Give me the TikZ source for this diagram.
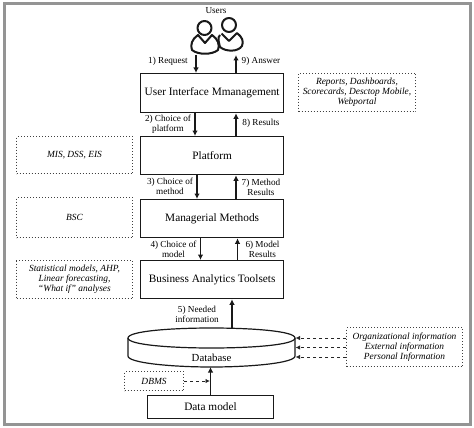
\documentclass[tikz,border=0pt]{standalone}
\usepackage{fontspec}
\setmainfont{Liberation Serif}
\usetikzlibrary{arrows.meta}
\tikzset{
 x=1pt,y=-1pt,
 mainbox/.style={draw=black!90,line width=1.3pt,fill=white,anchor=north west,inner sep=0pt,font=\fontsize{11.3}{13}\selectfont},
 notebox/.style={draw=black!75,line width=1pt,dotted,anchor=north west,inner sep=0pt,align=center,font=\fontsize{9.4}{10}\selectfont\itshape},
 lbl/.style={font=\fontsize{9.2}{10}\selectfont,align=center,inner sep=0pt},
 flow/.style={draw=black!90,line width=1.2pt,-{Latex[length=5.5pt,width=5.5pt]}},
 feed/.style={draw=black!85,line width=1pt,dashed,-{Latex[length=4.5pt,width=4.5pt]}},
 person/.style={draw=black!90,line width=2pt,line join=round},
}
\begin{document}
\begin{tikzpicture}
\useasboundingbox (0,0) rectangle (474,428);
\fill[white] (0,0) rectangle (474,428);
\draw[black!42,line width=3pt] (4,4) rectangle (470,424);
% boxes
\node[mainbox,minimum width=143pt,minimum height=39pt] (ui) at (140,73) {User Interface Mmanagement};
\node[mainbox,minimum width=143pt,minimum height=38pt] (pf) at (140,136) {Platform};
\node[mainbox,minimum width=143pt,minimum height=38pt] (mm) at (140,199) {Managerial Methods};
\node[mainbox,minimum width=143pt,minimum height=38pt] (ba) at (140,260) {Business Analytics Toolsets};
\node[mainbox,minimum width=126pt,minimum height=23pt,line width=1pt] (dm) at (147,395) {Data model};
% database
\draw[draw=black!90,line width=1.2pt,fill=white] (128,338) .. controls (128,331) and (172,328) .. (211.5,328) .. controls (251,328) and (295,331) .. (295,338) -- (295,356) .. controls (295,363) and (251,367) .. (211.5,367) .. controls (172,367) and (128,363) .. (128,356) -- cycle;
\draw[draw=black!90,line width=1.2pt] (128,338) .. controls (128,345) and (172,348) .. (211.5,348) .. controls (251,348) and (295,345) .. (295,338);
\node[inner sep=0pt,font=\fontsize{10.8}{13}\selectfont] (db) at (211.5,358) {Database};
% notes
\node[notebox,minimum width=117pt,minimum height=38pt] (n1) at (298,73) {Reports, Dashboards,\\Scorecards, Desctop Mobile,\\Webportal};
\node[notebox,minimum width=116pt,minimum height=37pt] (n2) at (16,136) {MIS, DSS, EIS};
\node[notebox,minimum width=116pt,minimum height=40pt] (n3) at (16,197) {BSC};
\node[notebox,minimum width=116pt,minimum height=38pt] (n4) at (16,260) {Statistical models, AHP,\\Linear forecasting,\\``What if'' analyses};
\node[notebox,minimum width=116pt,minimum height=39pt] (n5) at (346,327) {Organizational information\\External information\\Personal Information};
\node[notebox,minimum width=59pt,minimum height=19pt] (n6) at (124,371) {DBMS};
% users
\node[lbl] (users) at (216,11) {Users};
\node[circle,person,minimum size=14pt,inner sep=0pt] (h1) at (204.5,28) {};
\node[circle,person,minimum size=14pt,inner sep=0pt] (h2) at (229,25) {};
\draw[person] (220,35) .. controls (217,38) and (219,42) .. (220,47) .. controls (226,52) and (238,52) .. (242,46) .. controls (244,41) and (242,37) .. (237,33) -- (229,41) -- (221.5,33.5);
\draw[person,fill=white] (198,35) .. controls (192,39) and (190,45) .. (192,50) .. controls (198,55) and (212,55) .. (218,50) .. controls (220,45) and (218,39) .. (212,35) -- (205,43) -- cycle;
% arrows
\coordinate (uin) at (196,55);
\coordinate (uout) at (236,55);
\draw[flow] (uin) -- (196,0 |- ui.north);
\draw[flow] (236,0 |- ui.north) -- (uout);
\draw[flow] (195,0 |- ui.south) -- (195,0 |- pf.north);
\draw[flow] (236,0 |- pf.north) -- (236,0 |- ui.south);
\draw[flow] (197,0 |- pf.south) -- (197,0 |- mm.north);
\draw[flow] (236,0 |- mm.north) -- (236,0 |- pf.south);
\draw[flow] (200.5,0 |- mm.south) -- (200.5,0 |- ba.north);
\draw[flow] (237.5,0 |- ba.north) -- (237.5,0 |- mm.south);
\coordinate (dbtop) at (232,328);
\draw[flow] (dbtop) -- (232,0 |- ba.south);
\coordinate (dbbot) at (210.5,367);
\draw[flow] (dm.north -| dbbot) -- (dbbot);
\draw[feed] (n6.east) -- (210,0 |- n6.east);
\coordinate (o1) at (295.5,338);
\coordinate (o2) at (295.5,347.5);
\coordinate (o3) at (295.5,357);
\draw[feed] (n5.west |- o1) -- (o1);
\draw[feed] (n5.west |- o2) -- (o2);
\draw[feed] (n5.west |- o3) -- (o3);
% labels
\node[lbl] (l1) at (168,61) {1) Request};
\node[lbl] (l9) at (261,61) {9) Answer};
\node[lbl] (l2) at (168,124) {2) Choice of\\platform};
\node[lbl] (l8) at (261,123) {8) Results};
\node[lbl] (l3) at (170,186.5) {3) Choice of\\method};
\node[lbl] (l7) at (261,187) {7) Method\\Results};
\node[lbl] (l4) at (173.5,249) {4) Choice of\\model};
\node[lbl] (l6) at (262.5,249) {6) Model\\Results};
\node[lbl] (l5) at (197,314) {5) Needed\\information};
\end{tikzpicture}
\end{document}
